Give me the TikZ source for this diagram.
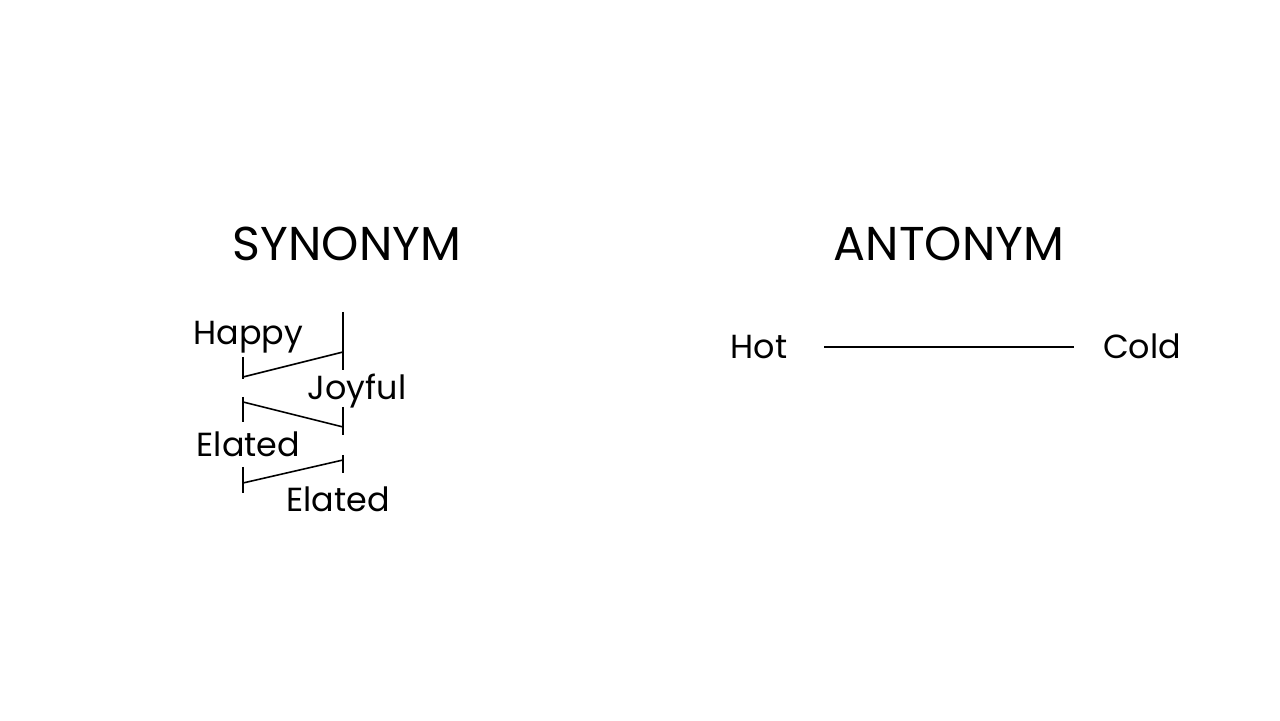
\documentclass[tikz,border=0pt]{standalone}
\usepackage{fontspec}
\setmainfont{Poppins}
\usepackage{tikz}
\usetikzlibrary{calc}

\tikzset{
  heading/.style={font=\fontsize{27}{30}\selectfont, anchor=base, inner sep=0pt},
  word/.style={font=\fontsize{19}{22}\selectfont, anchor=base, inner sep=0pt},
  link/.style={line width=0.9pt},
}

\begin{document}
\begin{tikzpicture}
\useasboundingbox (0,0) rectangle (25.6,14.4);

% headings
\draw (6.94,9.18) node[heading] (syn) {SYNONYM};
\draw (18.98,9.18) node[heading] (ant) {ANTONYM};

% synonym words
\draw (4.97,7.5) node[word] (happy) {Happy};
\draw (7.14,6.4) node[word] (joyful) {Joyful};
\draw (4.97,5.26) node[word] (elatedA) {Elated};
\draw (6.76,4.16) node[word] (elatedB) {Elated};

% Happy -- Joyful
\coordinate (r1top) at (6.86,8.16);
\coordinate (r1bot) at (6.86,7.0);
\coordinate (r1) at (6.86,7.36);
\coordinate (l1) at (4.86,6.86);
\coordinate (l1top) at (4.86,7.26);
\coordinate (l1bot) at (4.86,6.82);
\draw [link] (r1top) -- (r1bot);
\draw [link] (l1top) -- (l1bot);
\draw [link] (r1) -- (l1);

% Joyful -- Elated
\coordinate (l2top) at (4.86,6.46);
\coordinate (l2bot) at (4.86,5.96);
\coordinate (l2) at (4.86,6.36);
\coordinate (r2) at (6.86,5.86);
\coordinate (r2top) at (6.86,6.26);
\coordinate (r2bot) at (6.86,5.70);
\draw [link] (l2top) -- (l2bot);
\draw [link] (r2top) -- (r2bot);
\draw [link] (l2) -- (r2);

% Elated -- Elated
\coordinate (r3top) at (6.86,5.30);
\coordinate (r3bot) at (6.86,4.94);
\coordinate (r3) at (6.86,5.2);
\coordinate (l3) at (4.86,4.74);
\coordinate (l3top) at (4.86,5.06);
\coordinate (l3bot) at (4.86,4.54);
\draw [link] (r3top) -- (r3bot);
\draw [link] (l3top) -- (l3bot);
\draw [link] (r3) -- (l3);

% antonym
\draw (15.18,7.22) node[word] (hot) {Hot};
\draw (22.84,7.22) node[word] (cold) {Cold};
\draw [link] ([shift={(0.73,0.24)}]hot.base east) -- ([shift={(-0.58,0.24)}]cold.base west);

\end{tikzpicture}
\end{document}
